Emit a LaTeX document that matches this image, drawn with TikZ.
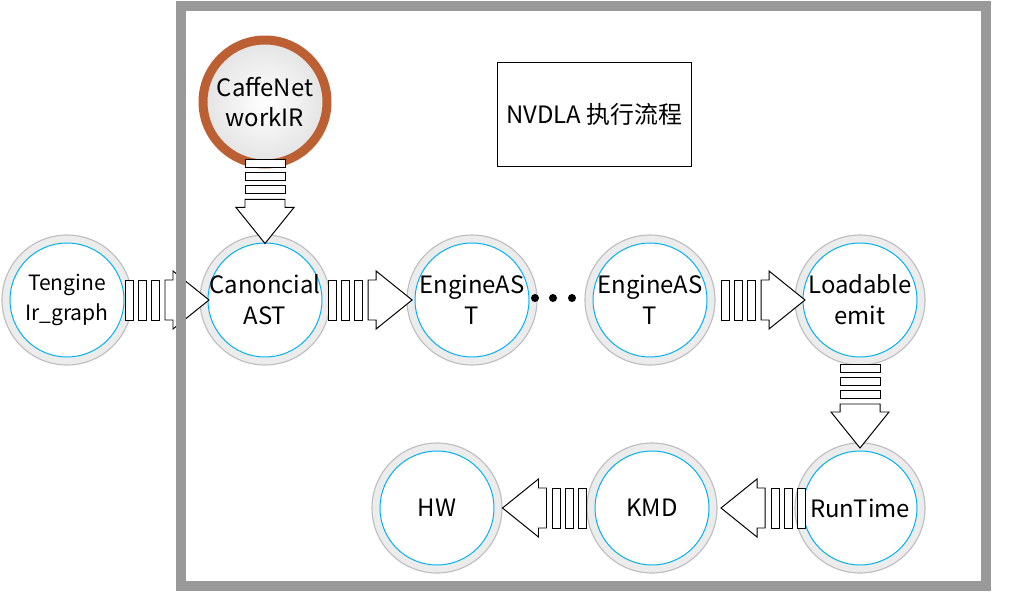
\documentclass[tikz,border=0pt]{standalone}
\usepackage{fontspec}
\setmainfont{Noto Sans CJK SC}
\usetikzlibrary{shadings}
\definecolor{rust}{RGB}{188,96,52}
\definecolor{ringgray}{RGB}{236,236,236}
\definecolor{ringline}{RGB}{190,190,190}
\definecolor{inner}{RGB}{0,176,240}
\tikzset{
  stage/.style={circle,fill=ringgray,draw=ringline,line width=0.8pt,minimum size=32.5mm,
    align=center,inner sep=0pt,font=\fontsize{17}{22}\selectfont,
    path picture={\draw[inner,fill=white,line width=0.7pt] (path picture bounding box.center) circle (14.25mm);}},
  source/.style={circle,draw=rust,line width=6.4pt,minimum size=31mm,inner sep=0pt,align=center,
    shading=radial,inner color=white,outer color=gray!22,font=\fontsize{17}{22}\selectfont},
  stripe/.pic={
    \foreach \a in {-42,-29,-16}
      \draw[fill=white,line width=0.7pt] (\a,-20) rectangle ++(8,40);
    \draw[fill=white,line width=0.7pt] (-2,-20) -- (6,-20) -- (6,-29) -- (42,0) -- (6,29) -- (6,20) -- (-2,20) -- cycle;
  }
}
\begin{document}
\begin{tikzpicture}[x=0.25mm,y=-0.25mm]
  \useasboundingbox (0,0) rectangle (1013,592);

  \node[stage,font=\fontsize{15}{21}\selectfont] (tengine) at (67,300) {Tengine\\Ir\_graph};
  \node[stage] (canon) at (265,300) {Canoncial\\AST};
  \node[stage] (engA) at (472,300) {EngineAS\\T};
  \node[stage] (engB) at (650,300) {EngineAS\\T};
  \node[stage] (load) at (860,300) {Loadable\\emit};
  \node[stage] (run) at (860,508) {RunTime};
  \node[stage] (kmd) at (652,508) {KMD};
  \node[stage] (hw) at (437,508) {HW};
  \node[source] (caffe) at (265,102) {CaffeNet\\workIR};
  \node[draw,line width=0.7pt,minimum width=48.5mm,minimum height=26mm,font=\fontsize{17}{22}\selectfont] (title) at (594,114) {NVDLA 执行流程};

  % dots between the two engine stages
  \foreach \x in {535,553,572}
    \fill (\x,298) circle (4);

  % striped arrows
  \path (tengine) -- (canon) coordinate[midway] (m1);
  \path (canon) -- (engA) coordinate[midway] (m2);
  \path (engB) -- (load) coordinate[midway] (m3);
  \path (caffe) -- (canon) coordinate[midway] (m4);
  \path (load) -- (run) coordinate[midway] (m5);
  \path (run) -- (kmd) coordinate[midway] (m6);
  \path (kmd) -- (hw) coordinate[midway] (m7);
  \pic at ([xshift=0.25mm]m1) {stripe};
  \pic at ([xshift=0.4mm]m2) {stripe};
  \pic at ([xshift=2mm]m3) {stripe};
  \pic[rotate=-90] at (m4) {stripe};
  \pic[rotate=-90] at ([yshift=-0.5mm]m5) {stripe};
  \pic[rotate=180] at ([xshift=1.75mm]m6) {stripe};
  \pic[rotate=180] at (m7) {stripe};

  % frame
  \draw[gray!80,line width=7pt] (181,6) rectangle (986,586);
\end{tikzpicture}
\end{document}
